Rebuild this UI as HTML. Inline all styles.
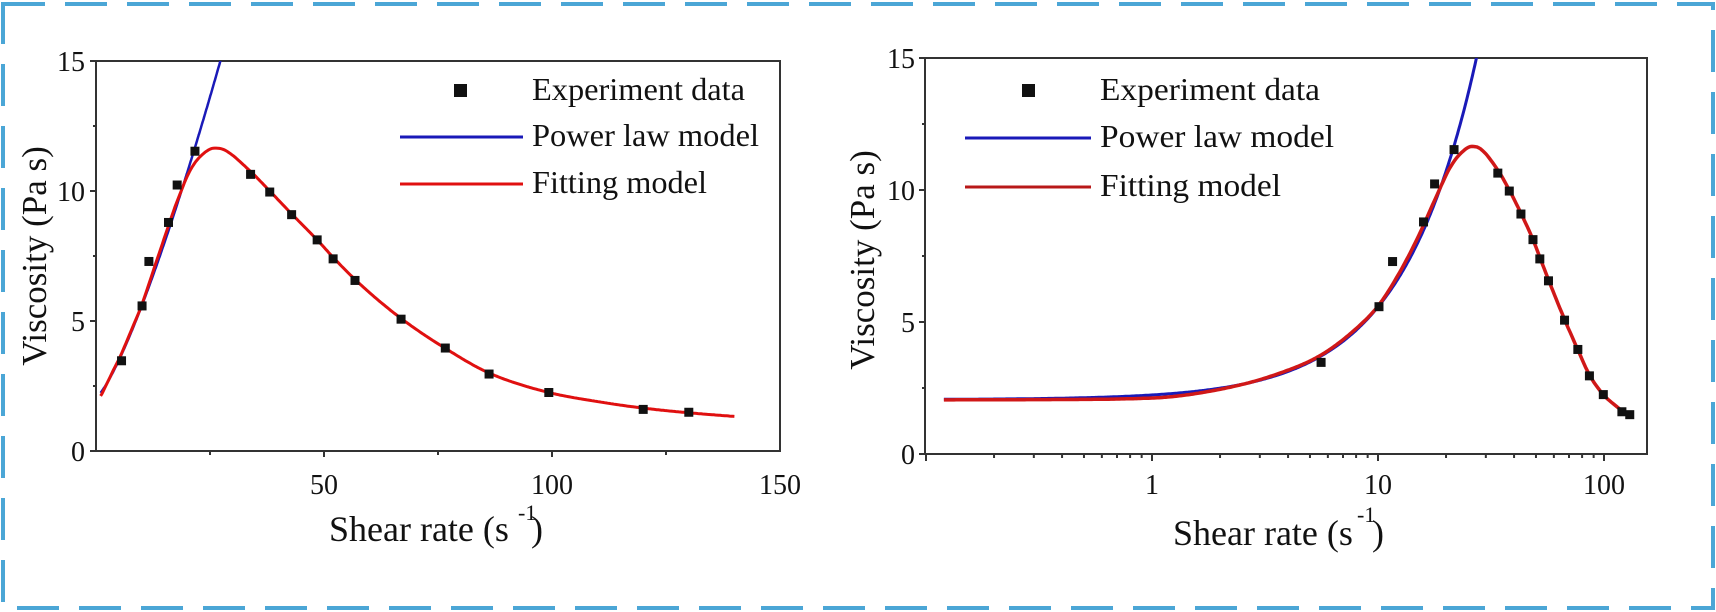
<!DOCTYPE html>
<html><head><meta charset="utf-8"><style>
html,body{margin:0;padding:0;background:#fff;}
svg{display:block;}
svg text{font-family:"Liberation Serif",serif !important;fill:#111;}
</style></head><body>
<svg id="s" width="1716" height="612" viewBox="0 0 1716 612" xmlns="http://www.w3.org/2000/svg" font-family="'Liberation Serif', serif">
<rect x="3" y="4" width="1710" height="604" fill="none" stroke="#4ba6d6" stroke-width="4" stroke-dasharray="42 20"/>
<defs>
<clipPath id="cl"><rect x="96" y="61" width="684" height="390"/></clipPath>
<clipPath id="cr"><rect x="925" y="58" width="722" height="396"/></clipPath>
</defs>
<rect x="96" y="61" width="684" height="390" fill="none" stroke="#333" stroke-width="2"/>
<g id="lt" stroke="#333" stroke-width="2"></g>
<g font-size="28" text-anchor="end">
<text x="85" y="71">15</text><text x="85" y="201">10</text><text x="85" y="331">5</text><text x="85" y="461">0</text>
</g>
<g font-size="28" text-anchor="middle">
<text x="324" y="494">50</text><text x="552" y="494">100</text><text x="780" y="494">150</text>
</g>
<text font-size="35" transform="translate(46,256) rotate(-90)" text-anchor="middle">Viscosity (Pa s)</text>
<text font-size="36" x="329" y="541">Shear rate (s</text>
<text font-size="22" x="518" y="520">-1</text>
<text font-size="36" x="531" y="541">)</text>
<g id="lp"></g>
<rect x="454" y="84" width="13" height="13" fill="#111"/>
<text font-size="32" x="532" y="100" textLength="213" lengthAdjust="spacingAndGlyphs">Experiment data</text>
<line x1="400" y1="137" x2="523" y2="137" stroke="#1a1ab8" stroke-width="3"/>
<text font-size="32" x="532" y="146" textLength="227" lengthAdjust="spacingAndGlyphs">Power law model</text>
<line x1="400" y1="184" x2="523" y2="184" stroke="#e01010" stroke-width="3"/>
<text font-size="32" x="532" y="193" textLength="175" lengthAdjust="spacingAndGlyphs">Fitting model</text>

<rect x="925" y="58" width="722" height="396" fill="none" stroke="#333" stroke-width="2"/>
<g id="rt" stroke="#333" stroke-width="2"></g>
<g font-size="28" text-anchor="end">
<text x="915" y="68">15</text><text x="915" y="200">10</text><text x="915" y="332">5</text><text x="915" y="464">0</text>
</g>
<g font-size="28" text-anchor="middle">
<text x="1152" y="494">1</text><text x="1378" y="494">10</text><text x="1604" y="494">100</text>
</g>
<text font-size="35" transform="translate(874,260) rotate(-90)" text-anchor="middle">Viscosity (Pa s)</text>
<text font-size="36" x="1173" y="545">Shear rate (s</text>
<text font-size="22" x="1357" y="522">-1</text>
<text font-size="36" x="1372" y="545">)</text>
<g id="rp"></g>
<rect x="1022" y="84" width="13" height="13" fill="#111"/>
<text font-size="32" x="1100" y="100" textLength="220" lengthAdjust="spacingAndGlyphs">Experiment data</text>
<line x1="965" y1="138" x2="1091" y2="138" stroke="#1a1ab8" stroke-width="3"/>
<text font-size="32" x="1100" y="147" textLength="234" lengthAdjust="spacingAndGlyphs">Power law model</text>
<line x1="965" y1="187" x2="1091" y2="187" stroke="#b81818" stroke-width="3"/>
<text font-size="32" x="1100" y="196" textLength="181" lengthAdjust="spacingAndGlyphs">Fitting model</text>
</svg>
<script>
(function(){
var NS="http://www.w3.org/2000/svg";
function el(p,t,a){var e=document.createElementNS(NS,t);for(var k in a)e.setAttribute(k,a[k]);p.appendChild(e);return e;}
var data=[[5.6,3.47],[10.1,5.58],[11.6,7.29],[15.9,8.79],[17.8,10.23],[21.7,11.53],[33.9,10.64],[38.1,9.96],[42.9,9.09],[48.5,8.12],[52,7.39],[56.8,6.56],[66.9,5.07],[76.6,3.96],[86.2,2.96],[99.3,2.25],[120,1.6],[130,1.49]];
var cp=[[0.12,2.05],[0.3,2.06],[1,2.12],[2,2.45],[3.5,3.0],[5.6,3.75],[8,4.75],[10.1,5.65],[12.5,6.9],[15,8.2],[18,9.7],[21,10.9],[24,11.5],[26,11.65],[28.5,11.55],[33.9,10.75],[38.1,10.0],[42.9,9.12],[48.5,8.12],[52,7.45],[56.8,6.6],[66.9,5.1],[76.6,3.95],[86.2,3.0],[99.3,2.25],[110,1.9],[120,1.65],[130,1.47],[140,1.33]];
var X=cp.map(function(p){return Math.log(p[0]);}),Y=cp.map(function(p){return p[1];}),n=X.length;
var d=[],m=[];for(var i=0;i<n-1;i++)d.push((Y[i+1]-Y[i])/(X[i+1]-X[i]));
m[0]=d[0];m[n-1]=d[n-2];for(i=1;i<n-1;i++){m[i]=(d[i-1]*d[i]<=0)?0:(d[i-1]+d[i])/2;}
for(i=0;i<n-1;i++){if(d[i]==0){m[i]=m[i+1]=0;continue;}var a=m[i]/d[i],b=m[i+1]/d[i],s=a*a+b*b;if(s>9){var t=3/Math.sqrt(s);m[i]=t*a*d[i];m[i+1]=t*b*d[i];}}
function fit(x){var lx=Math.log(x);for(var i=0;i<n-1;i++)if(lx<=X[i+1]||i==n-2){var h=X[i+1]-X[i],t=(lx-X[i])/h,t2=t*t,t3=t2*t;return (2*t3-3*t2+1)*Y[i]+(t3-2*t2+t)*h*m[i]+(-2*t3+3*t2)*Y[i+1]+(t3-t2)*h*m[i+1];}}
function pw(x){return 2.06+0.176*Math.pow(x,1.3);}
var L={x:function(v){return 96+v*684/150;},y:function(v){return 451-v*26;}};
var R={x:function(v){return 1152+Math.log10(v)*226;},y:function(v){return 454-v*26.4;}};
function path(g,M,f,x0,x1,lg,col,w,clip){var s="",N=400;for(var k=0;k<=N;k++){var x=lg?Math.exp(Math.log(x0)+(Math.log(x1)-Math.log(x0))*k/N):x0+(x1-x0)*k/N;var yv=f(x);if(yv>16)yv=16;s+=(k?"L":"M")+M.x(x).toFixed(1)+","+M.y(yv).toFixed(1);}
el(g,"path",{d:s,fill:"none",stroke:col,"stroke-width":w,"clip-path":clip});}
var lp=document.getElementById("lp"),rp=document.getElementById("rp");
path(lp,L,pw,1,28,false,"#1a1ab8",2.5,"url(#cl)");
path(lp,L,fit,1,140,false,"#e01010",3,"url(#cl)");
path(rp,R,pw,0.12,30,true,"#1a1ab8",3,"url(#cr)");
path(rp,R,fit,0.12,133,true,"#d01818",3.5,"url(#cr)");
data.forEach(function(p){el(lp,"rect",{x:L.x(p[0])-4.5,y:L.y(p[1])-4.5,width:9,height:9,fill:"#111"});el(rp,"rect",{x:R.x(p[0])-4.5,y:R.y(p[1])-4.5,width:9,height:9,fill:"#111"});});
var lt=document.getElementById("lt"),rt=document.getElementById("rt");
for(var v=0;v<=15;v+=2.5){var len=(v%5==0)?6:3;el(lt,"line",{x1:96-len,y1:L.y(v),x2:96,y2:L.y(v)});el(rt,"line",{x1:925-len,y1:R.y(v),x2:925,y2:R.y(v)});}
for(v=25;v<150;v+=25){el(lt,"line",{x1:L.x(v),y1:451,x2:L.x(v),y2:451+(v%50==0?6:4)});}
[0.1,1,10,100].forEach(function(dec){for(var k=1;k<10;k++){var v=dec*k;var xx=R.x(v);if(xx<926||xx>1646)continue;el(rt,"line",{x1:xx,y1:454,x2:xx,y2:454+(k==1?7:4)});}});
})();
</script>
</body></html>
